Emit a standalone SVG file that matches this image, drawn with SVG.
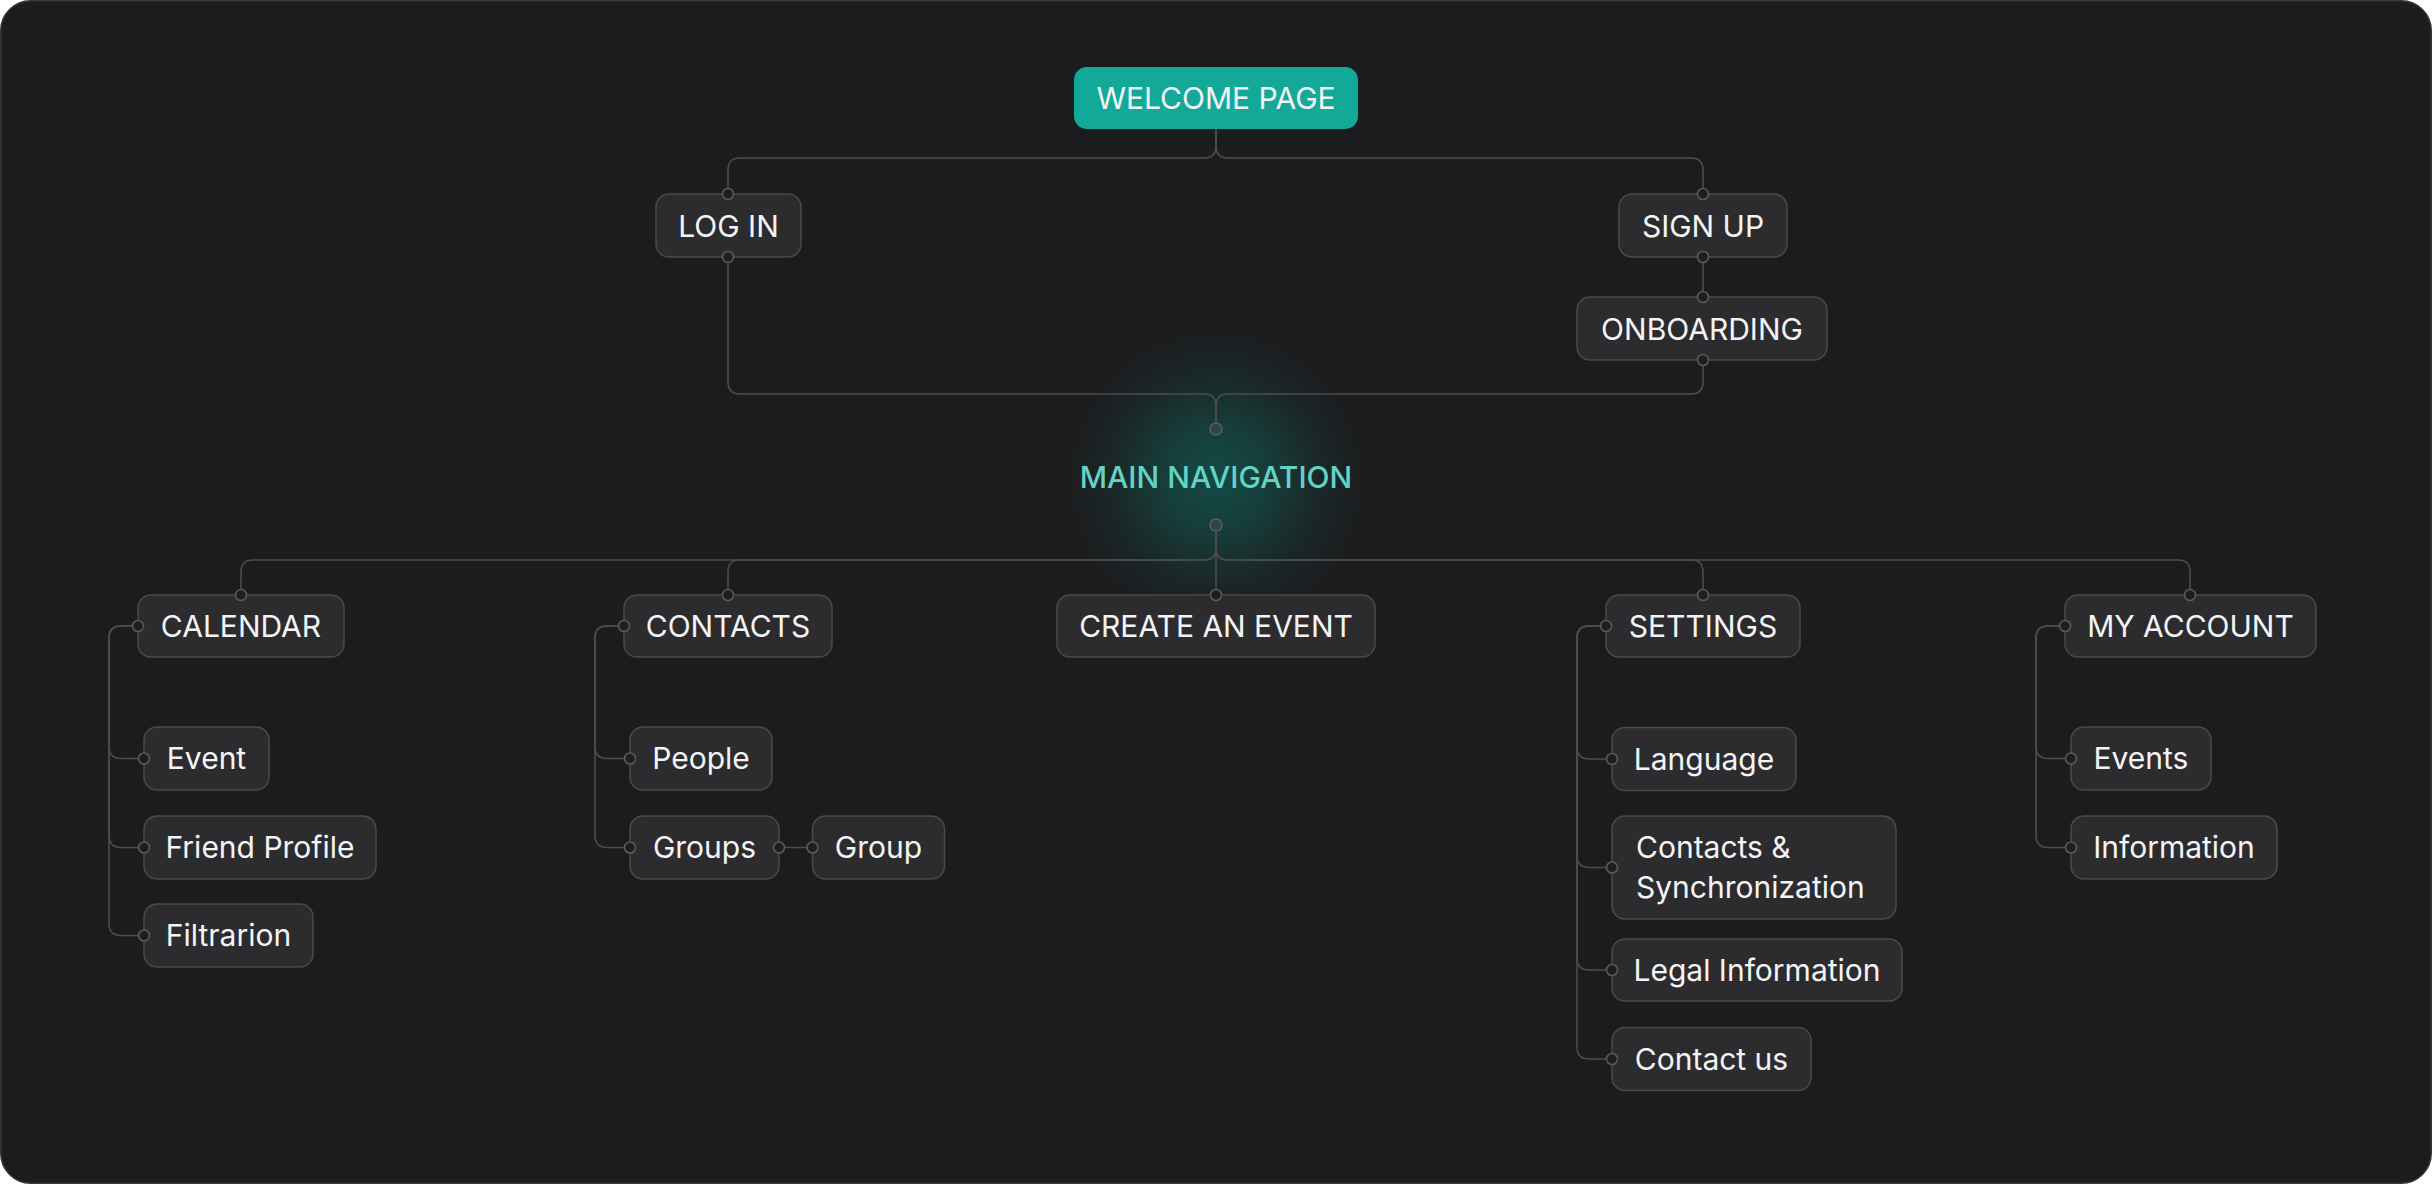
<svg xmlns="http://www.w3.org/2000/svg" width="2432" height="1184" viewBox="0 0 2432 1184">
<defs>
<radialGradient id="glow" cx="1216" cy="478" r="150" gradientUnits="userSpaceOnUse">
<stop offset="0" stop-color="#13524b" stop-opacity="0.85"/>
<stop offset="0.35" stop-color="#13524b" stop-opacity="0.62"/>
<stop offset="0.7" stop-color="#13524b" stop-opacity="0.2"/>
<stop offset="1" stop-color="#13524b" stop-opacity="0"/>
</radialGradient>
<style>
.bg{fill:#1c1c1e;stroke:#38383b;stroke-width:1.5}
.box{fill:#2c2c2f;stroke:#4a4a4e;stroke-width:1.5}
.welcome{fill:#13a999;stroke:none}
.lbl{font-family:Inter,"Noto Sans","Liberation Sans",sans-serif;font-size:30px;fill:#f4f4f6;text-anchor:middle}
.lbl-l{font-family:Inter,"Noto Sans","Liberation Sans",sans-serif;font-size:30px;fill:#f4f4f6}
.main{font-family:Inter,"Noto Sans","Liberation Sans",sans-serif;font-size:30px;font-weight:500;fill:#62d3c4;text-anchor:middle}
.edge{fill:none;stroke:#4c4c50;stroke-width:1.6}
.dot{fill:#1e1e20;stroke:#5a5a5e;stroke-width:1.6}
.hub{fill:#5a5a5e;fill-opacity:0.3;stroke:#5b5f60;stroke-width:1.6}
</style>
</defs>
<rect class="bg" x="0.75" y="0.75" width="2430.5" height="1182.5" rx="30" ry="30"/>
<circle cx="1216" cy="478" r="150" fill="url(#glow)"/>

<g id="connectors">
<path class="edge" d="M1216 129 V146 Q1216 158 1204 158 H740 Q728 158 728 170 V194"/>
<path class="edge" d="M1216 129 V146 Q1216 158 1228 158 H1691 Q1703 158 1703 170 V194"/>
<path class="edge" d="M1703 257 V297"/>
<path class="edge" d="M728 257 V382 Q728 394 740 394 H1204 Q1216 394 1216 406 V423"/>
<path class="edge" d="M1703 360 V382 Q1703 394 1691 394 H1228 Q1216 394 1216 406 V423"/>
<path class="edge" d="M1216 531 V548 Q1216 560 1204 560 H253 Q241 560 241 572 V595"/>
<path class="edge" d="M1216 531 V548 Q1216 560 1204 560 H740 Q728 560 728 572 V595"/>
<path class="edge" d="M1216 531 V595"/>
<path class="edge" d="M1216 531 V548 Q1216 560 1228 560 H1691 Q1703 560 1703 572 V595"/>
<path class="edge" d="M1216 531 V548 Q1216 560 1228 560 H2178 Q2190 560 2190 572 V595"/>
<path class="edge" d="M138 626 H121 Q109 626 109 638 V746.5 Q109 758.5 121 758.5 H144"/>
<path class="edge" d="M138 626 H121 Q109 626 109 638 V835.5 Q109 847.5 121 847.5 H144"/>
<path class="edge" d="M138 626 H121 Q109 626 109 638 V923.5 Q109 935.5 121 935.5 H144"/>
<path class="edge" d="M624 626 H607 Q595 626 595 638 V746.5 Q595 758.5 607 758.5 H630"/>
<path class="edge" d="M624 626 H607 Q595 626 595 638 V835.5 Q595 847.5 607 847.5 H630"/>
<path class="edge" d="M779 847.5 H812.5"/>
<path class="edge" d="M1606 626 H1589 Q1577 626 1577 638 V747 Q1577 759 1589 759 H1612"/>
<path class="edge" d="M1606 626 H1589 Q1577 626 1577 638 V855.5 Q1577 867.5 1589 867.5 H1612"/>
<path class="edge" d="M1606 626 H1589 Q1577 626 1577 638 V958 Q1577 970 1589 970 H1612"/>
<path class="edge" d="M1606 626 H1589 Q1577 626 1577 638 V1047 Q1577 1059 1589 1059 H1612"/>
<path class="edge" d="M2065 626 H2048 Q2036 626 2036 638 V746.5 Q2036 758.5 2048 758.5 H2071"/>
<path class="edge" d="M2065 626 H2048 Q2036 626 2036 638 V835.5 Q2036 847.5 2048 847.5 H2071"/>
</g>

<g id="welcome-page">
<rect class="welcome" x="1074" y="67" width="284" height="62" rx="13"/>
<text class="lbl" x="1216" y="109">WELCOME PAGE</text>
</g>
<g id="log-in">
<rect class="box" x="656" y="194" width="145" height="63" rx="13"/>
<text class="lbl" x="728.5" y="236.5">LOG IN</text>
<circle class="dot" cx="728" cy="194" r="5.5"/>
<circle class="dot" cx="728" cy="257" r="5.5"/>
</g>
<g id="sign-up">
<rect class="box" x="1619" y="194" width="168" height="63" rx="13"/>
<text class="lbl" x="1703" y="236.5">SIGN UP</text>
<circle class="dot" cx="1703" cy="194" r="5.5"/>
<circle class="dot" cx="1703" cy="257" r="5.5"/>
</g>
<g id="onboarding">
<rect class="box" x="1577" y="297" width="250" height="63" rx="13"/>
<text class="lbl" x="1702" y="339.5">ONBOARDING</text>
<circle class="dot" cx="1703" cy="297" r="5.5"/>
<circle class="dot" cx="1703" cy="360" r="5.5"/>
</g>
<g id="main-navigation">
<text class="main" x="1216" y="488">MAIN NAVIGATION</text>
<circle class="hub" cx="1216" cy="429" r="6"/>
<circle class="hub" cx="1216" cy="525" r="6"/>
</g>
<g id="calendar">
<rect class="box" x="138" y="595" width="206" height="62" rx="13"/>
<text class="lbl" x="241" y="637">CALENDAR</text>
<circle class="dot" cx="241" cy="595" r="5.5"/>
<circle class="dot" cx="138" cy="626" r="5.5"/>
</g>
<g id="contacts">
<rect class="box" x="624" y="595" width="208" height="62" rx="13"/>
<text class="lbl" x="728" y="637">CONTACTS</text>
<circle class="dot" cx="728" cy="595" r="5.5"/>
<circle class="dot" cx="624" cy="626" r="5.5"/>
</g>
<g id="create-an-event">
<rect class="box" x="1057" y="595" width="318" height="62" rx="13"/>
<text class="lbl" x="1216" y="637">CREATE AN EVENT</text>
<circle class="dot" cx="1216" cy="595" r="5.5"/>
</g>
<g id="settings">
<rect class="box" x="1606" y="595" width="194" height="62" rx="13"/>
<text class="lbl" x="1703" y="637">SETTINGS</text>
<circle class="dot" cx="1703" cy="595" r="5.5"/>
<circle class="dot" cx="1606" cy="626" r="5.5"/>
</g>
<g id="my-account">
<rect class="box" x="2065" y="595" width="251" height="62" rx="13"/>
<text class="lbl" x="2190.5" y="637">MY ACCOUNT</text>
<circle class="dot" cx="2190" cy="595" r="5.5"/>
<circle class="dot" cx="2065" cy="626" r="5.5"/>
</g>
<g id="event">
<rect class="box" x="144" y="727" width="125" height="63" rx="13"/>
<text class="lbl" x="206.5" y="769">Event</text>
<circle class="dot" cx="144" cy="758.5" r="5.5"/>
</g>
<g id="friend-profile">
<rect class="box" x="144" y="816" width="232" height="63" rx="13"/>
<text class="lbl" x="260" y="858">Friend Profile</text>
<circle class="dot" cx="144" cy="847.5" r="5.5"/>
</g>
<g id="filtrarion">
<rect class="box" x="144" y="904" width="169" height="63" rx="13"/>
<text class="lbl" x="228.5" y="946">Filtrarion</text>
<circle class="dot" cx="144" cy="935.5" r="5.5"/>
</g>
<g id="people">
<rect class="box" x="630" y="727" width="142" height="63" rx="13"/>
<text class="lbl" x="701" y="769">People</text>
<circle class="dot" cx="630" cy="758.5" r="5.5"/>
</g>
<g id="groups">
<rect class="box" x="630" y="816" width="149" height="63" rx="13"/>
<text class="lbl" x="704.5" y="858">Groups</text>
<circle class="dot" cx="630" cy="847.5" r="5.5"/>
<circle class="dot" cx="779" cy="847.5" r="5.5"/>
</g>
<g id="group">
<rect class="box" x="812.5" y="816" width="132" height="63" rx="13"/>
<text class="lbl" x="878.5" y="858">Group</text>
<circle class="dot" cx="812.5" cy="847.5" r="5.5"/>
</g>
<g id="language">
<rect class="box" x="1612" y="727.5" width="184" height="63" rx="13"/>
<text class="lbl" x="1704" y="769.5">Language</text>
<circle class="dot" cx="1612" cy="759" r="5.5"/>
</g>
<g id="contacts-sync">
<rect class="box" x="1612" y="816" width="284" height="103" rx="13"/>
<text class="lbl-l" x="1636" y="858">Contacts &amp;</text>
<text class="lbl-l" x="1636" y="898">Synchronization</text>
<circle class="dot" cx="1612" cy="867.5" r="5.5"/>
</g>
<g id="legal-information">
<rect class="box" x="1612" y="939" width="290" height="62" rx="13"/>
<text class="lbl" x="1757" y="981">Legal Information</text>
<circle class="dot" cx="1612" cy="970" r="5.5"/>
</g>
<g id="contact-us">
<rect class="box" x="1612" y="1027.5" width="199" height="63" rx="13"/>
<text class="lbl" x="1711.5" y="1069.5">Contact us</text>
<circle class="dot" cx="1612" cy="1059" r="5.5"/>
</g>
<g id="events">
<rect class="box" x="2071" y="727" width="140" height="63" rx="13"/>
<text class="lbl" x="2141" y="769">Events</text>
<circle class="dot" cx="2071" cy="758.5" r="5.5"/>
</g>
<g id="information">
<rect class="box" x="2071" y="816" width="206" height="63" rx="13"/>
<text class="lbl" x="2174" y="858">Information</text>
<circle class="dot" cx="2071" cy="847.5" r="5.5"/>
</g>
</svg>
